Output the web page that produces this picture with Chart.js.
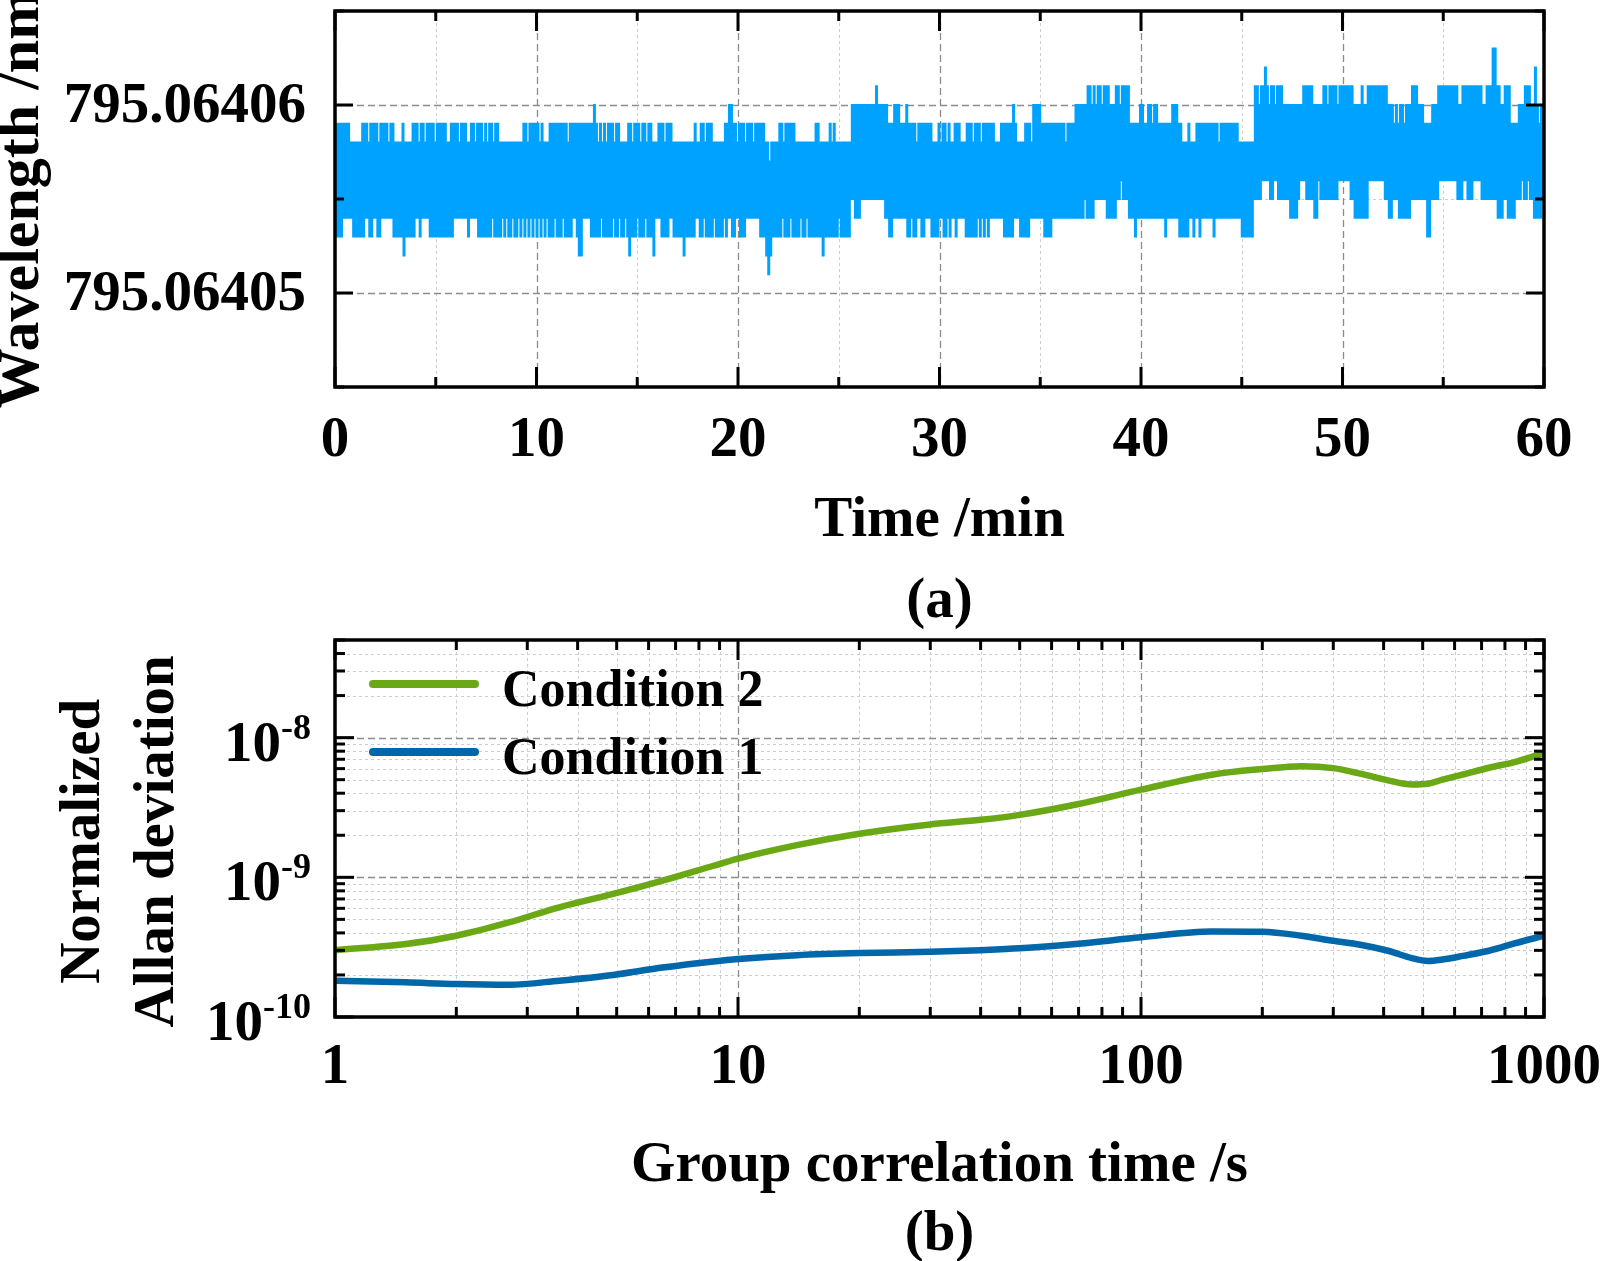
<!DOCTYPE html>
<html>
<head>
<meta charset="utf-8">
<script src="https://cdn.jsdelivr.net/npm/chart.js@4/dist/chart.umd.min.js"></script>
<style>
  html, body { margin: 0; padding: 0; background: #fff; width: 1600px; height: 1261px; overflow: hidden; }
  #ca { position: absolute; left: 0; top: 0; }
  #cb { position: absolute; left: 0; top: 620px; }
</style>
</head>
<body>
<canvas id="ca" width="1600" height="640"></canvas>
<canvas id="cb" width="1600" height="641"></canvas>
<script>
// ================= Panel (a): wavelength record =================
// Quantised wavelength levels: level digit (hex) n  ->  795.06405 nm + n * 1e-6 nm
const WL_BASE = 795.06405;
const WL_STEP = 0.000001;
const SAMPLE_DT = 0.1;                          // minutes per sample
const segStart = [0, 12.2, 24.3, 36.5, 47.9];    // minutes
// upper and lower level reached within each 0.1-min sample
const segHigh = [
  "9999999 888888 9998999989999899 8888 9 8888 99989989999899999 88 99998999 88 99899989899 8 99 888888888888 9989999 989 888 9999999998999999",
  "999999 a 989 8989998998 888 998999899899 888 9998999 88888888888 98 8 998999 888888 99aa9 989 998999899 999 8878888 99899999 8888888888 99 888",
  "88 9898 8888888 aaaaaaaaaaaa b aaaaa 999 aaa 999 a 9999 8 9999999 888 989989 88 999 888 99989998999999 888 999999 a 9 8888 9998 aaaa 99999999999 9899",
  "99 aaaaaa bbababbabbb aaa bbabbbb 99999 aa 99 aa 9 aa 9999999 aaa 99 8889888 99999999999 8 999999999 88888888 bb a bb c ba bb ab bb aaaaaaaaa",
  "a bbbbb aaaaa bbabbbb a bbbbbbb aaaa b aa bbbbbbbbbb aaa 9 a9 aa9 aaa bbb aaa 9999 aaa bbbbbbbbbb aa bbbbbbbbbb aa bbb ddb baa bbb 9999 aaa bbb aa c a9 aa"
];
const segLow = [
  "3333 44444 333333 44 33 44 33 444444 33333233333 44 3 4444 333333333333 4444444 3 4444 3333333 4 3333 434 3343343 4343434 3 43434 333433343333 4432",
  "24 444 3333 343333 3433433 43 2 33 34333433 32 444 3333 44 33333 2 33333 44 33 43 3334333343 44 33 44 333 4444444 333 212 3333 34333433334334 3333333 2",
  "3333333433333 55 444 555555555555 44 334 444444 33 4 33 44 33 444 3333 44 33 43 4434444 333333 434 3434 444444 33333 444 33333 4444444 3333 444444444",
  "4444444 5 4444 555555 44444 55 65 55 444 3 44444444444444 3 444444 33333 44 34 434 44444 34 444444444444 333333 5555 6666 55 66 555555 4444 5",
  "666 5555 44 65 55555555 666666 55 4444444 66666666 55 44 555 444444 55555555 33 5555 666666666 555 66 555 6666 55555555 444 55 4444 55 5655655 4444 5"
];
const xTickValsA = [0, 10, 20, 30, 40, 50, 60];
const xTickLabelsA = ['0', '10', '20', '30', '40', '50', '60'];
const xMinorA = [5, 15, 25, 35, 45, 55];
const yTickValsA = [795.06405, 795.06406];
const yTickLabelsA = ['795.06405', '795.06406'];
const yMinorA = [795.064045, 795.064055, 795.064065];

// ================= Panel (b): Allan deviation =================
const tau   = [1, 1.5, 2, 2.7, 3.6, 4.9, 6.5, 8.7, 10, 14, 20, 30, 40, 50, 70, 100, 150, 200, 250, 300, 350, 410, 470, 515, 560, 630, 730, 845, 1000];
const cond2 = [3.01e-10, 3.33e-10, 3.82e-10, 4.75e-10, 6.1e-10, 7.6e-10, 9.47e-10, 1.21e-9, 1.36e-9, 1.7e-9, 2.05e-9, 2.39e-9, 2.58e-9, 2.8e-9, 3.35e-9, 4.24e-9, 5.43e-9, 5.96e-9, 6.25e-9, 6.05e-9, 5.52e-9, 4.94e-9, 4.62e-9, 4.68e-9, 5.0e-9, 5.45e-9, 6.09e-9, 6.68e-9, 7.76e-9];
const cond1 = [1.82e-10, 1.77e-10, 1.72e-10, 1.70e-10, 1.82e-10, 2.0e-10, 2.26e-10, 2.5e-10, 2.6e-10, 2.77e-10, 2.87e-10, 2.93e-10, 3.01e-10, 3.1e-10, 3.35e-10, 3.72e-10, 4.1e-10, 4.08e-10, 3.82e-10, 3.51e-10, 3.29e-10, 2.98e-10, 2.64e-10, 2.52e-10, 2.58e-10, 2.74e-10, 2.98e-10, 3.36e-10, 3.82e-10];
const seriesNamesB = ['Condition 2', 'Condition 1'];
const seriesColorsB = ['#6aa815', '#0068aa'];
const xTickValsB = [1, 10, 100, 1000];
const xTickLabelsB = ['1', '10', '100', '1000'];
const xMinorB = [2, 3, 4, 5, 6, 7, 8, 9, 20, 30, 40, 50, 60, 70, 80, 90, 200, 300, 400, 500, 600, 700, 800, 900];
const yTickValsB = [1e-10, 1e-9, 1e-8];
const yTickBaseB = ['10', '10', '10'];
const yTickExpB = ['-10', '-9', '-8'];
const yMinorB = [2e-10, 3e-10, 4e-10, 5e-10, 6e-10, 7e-10, 8e-10, 9e-10, 2e-9, 3e-9, 4e-9, 5e-9, 6e-9, 7e-9, 8e-9, 9e-9, 2e-8, 3e-8, 4e-8, 5e-8];

// ================= helpers =================
const FONT = '"Liberation Serif", "Times New Roman", Times, serif';
Chart.defaults.color = '#000';
Chart.defaults.font.family = FONT;

const wlPoints = [];
segHigh.forEach((hs, k) => {
  const h = hs.replace(/\s+/g, ''), l = segLow[k].replace(/\s+/g, '');
  const n = Math.min(h.length, l.length);
  for (let j = 0; j < n; j++) {
    const t = segStart[k] + j * SAMPLE_DT;
    wlPoints.push({ x: t, y: WL_BASE + parseInt(l[j], 16) * WL_STEP });
    wlPoints.push({ x: t + SAMPLE_DT / 2, y: WL_BASE + parseInt(h[j], 16) * WL_STEP });
  }
});

const MAJOR = { color: '#8c8c8c', width: 1.3, dash: [7, 4] };
const MINOR = { color: '#cdcdcd', width: 1, dash: [3, 3] };

function makeFrame(cfg) {
  return {
    id: 'frameGrid',
    beforeDraw(chart) {
      const { ctx, chartArea: a } = chart;
      const xs = chart.scales.x, ys = chart.scales.y;
      ctx.save();
      ctx.beginPath(); ctx.rect(a.left, a.top, a.right - a.left, a.bottom - a.top); ctx.clip();
      const grid = (vals, scale, vertical, st) => {
        ctx.strokeStyle = st.color; ctx.lineWidth = st.width; ctx.setLineDash(st.dash);
        vals.forEach(v => {
          const p = Math.round(scale.getPixelForValue(v)) + 0.5;
          ctx.beginPath();
          if (vertical) { ctx.moveTo(p, a.top); ctx.lineTo(p, a.bottom); }
          else { ctx.moveTo(a.left, p); ctx.lineTo(a.right, p); }
          ctx.stroke();
        });
      };
      grid(cfg.xMinor, xs, true, MINOR);
      grid(cfg.yMinor, ys, false, MINOR);
      grid(cfg.xMajor, xs, true, MAJOR);
      grid(cfg.yMajor, ys, false, MAJOR);
      ctx.restore();
    },
    afterDatasetsDraw(chart) {
      const { ctx, chartArea: a } = chart;
      const xs = chart.scales.x, ys = chart.scales.y;
      ctx.save();
      ctx.strokeStyle = '#000'; ctx.setLineDash([]); ctx.lineWidth = 3; ctx.lineCap = 'butt';
      const xt = (vals, len) => vals.forEach(v => {
        const p = xs.getPixelForValue(v);
        ctx.beginPath(); ctx.moveTo(p, a.bottom); ctx.lineTo(p, a.bottom - len); ctx.stroke();
        ctx.beginPath(); ctx.moveTo(p, a.top); ctx.lineTo(p, a.top + len); ctx.stroke();
      });
      const yt = (vals, len) => vals.forEach(v => {
        const p = ys.getPixelForValue(v);
        ctx.beginPath(); ctx.moveTo(a.left, p); ctx.lineTo(a.left + len, p); ctx.stroke();
        ctx.beginPath(); ctx.moveTo(a.right, p); ctx.lineTo(a.right - len, p); ctx.stroke();
      });
      xt(cfg.xMajor, cfg.xMajLen); xt(cfg.xMinor, cfg.xMinLen);
      yt(cfg.yMajor, cfg.yMajLen); yt(cfg.yMinor, cfg.yMinLen);
      ctx.lineWidth = 3.5;
      ctx.strokeRect(a.left, a.top, a.right - a.left, a.bottom - a.top);
      ctx.restore();
    }
  };
}
const zeroPad = s => { s.paddingLeft = 0; s.paddingRight = 0; s.paddingTop = 0; s.paddingBottom = 0; };
const bigFont = (lh, size) => ({ family: FONT, size: size || 57, weight: 'bold', lineHeight: lh });

// ================= Chart (a) =================
new Chart(document.getElementById('ca'), {
  type: 'line',
  data: { datasets: [{
    label: 'Wavelength', data: wlPoints, borderColor: '#00a2ff', borderWidth: 2,
    pointRadius: 0, stepped: true, fill: false, tension: 0
  }] },
  options: {
    responsive: false, animation: false, devicePixelRatio: 1,
    layout: { padding: { top: 11, right: 56, left: 0, bottom: 0 } },
    plugins: {
      legend: { display: false }, tooltip: { enabled: false },
      title: { display: true, text: '(a)', position: 'bottom', fullSize: false, color: '#000',
               font: bigFont(1), padding: { top: 0, bottom: 9.5 } }
    },
    scales: {
      x: {
        type: 'linear', min: 0, max: 60,
        grid: { display: false, drawTicks: false }, border: { display: false },
        afterBuildTicks: s => { s.ticks = xTickValsA.map(v => ({ value: v })); },
        afterFit: s => { s.height = 186.5; zeroPad(s); },
        ticks: { autoSkip: false, maxRotation: 0, minRotation: 0, padding: 20, color: '#000',
                 font: bigFont(1.2), callback: (v, i) => xTickLabelsA[i] },
        title: { display: true, text: 'Time /min', color: '#000', font: bigFont(1.2),
                 padding: { top: 0, bottom: 18.3 } }
      },
      y: {
        type: 'linear', min: 795.064045, max: 795.064065,
        grid: { display: false, drawTicks: false }, border: { display: false },
        afterBuildTicks: s => { s.ticks = yTickValsA.map(v => ({ value: v })); },
        afterFit: s => { s.width = 335; zeroPad(s); },
        ticks: { autoSkip: false, padding: 29, labelOffset: 2.5, color: '#000', font: bigFont(1.2),
                 callback: (v, i) => yTickLabelsA[i] },
        title: { display: true, text: 'Wavelength /nm', color: '#000', font: bigFont(0.75, 60),
                 padding: { top: 0, bottom: 0 } }
      }
    }
  },
  plugins: [makeFrame({ xMajor: xTickValsA, xMinor: xMinorA, yMajor: yTickValsA, yMinor: yMinorA,
                        xMajLen: 20, xMinLen: 10, yMajLen: 18, yMinLen: 9 })]
});

// ================= Chart (b) =================
// legend sample: a thick round-capped line, drawn slightly above the text centre
function legendLine(color) {
  const c = document.createElement('canvas');
  c.width = 112; c.height = 40;
  const g = c.getContext('2d');
  g.strokeStyle = color; g.lineWidth = 8; g.lineCap = 'round';
  g.beginPath(); g.moveTo(5, 11); g.lineTo(107, 11); g.stroke();
  return c;
}
const legendPlace = {
  id: 'legendPlace',
  beforeDraw(chart) {
    const lg = chart.legend, a = chart.chartArea;
    if (!lg) return;
    lg.left = a.left + 21; lg.right = a.right;
    lg.top = a.top + 11; lg.bottom = a.bottom;
  }
};
const yExpLabels = {
  id: 'yExpLabels',
  afterDraw(chart) {
    const ctx = chart.ctx, ys = chart.scales.y, right = 311;
    ctx.save();
    ctx.fillStyle = '#000'; ctx.textBaseline = 'alphabetic'; ctx.textAlign = 'right';
    yTickValsB.forEach((v, i) => {
      const p = ys.getPixelForValue(v);
      ctx.font = 'bold 36px ' + FONT;
      const ew = ctx.measureText(yTickExpB[i]).width;
      ctx.fillText(yTickExpB[i], right, p + 1);
      ctx.font = 'bold 57px ' + FONT;
      ctx.fillText(yTickBaseB[i], right - ew, p + 23);
    });
    ctx.restore();
  }
};
const seriesB = [cond2, cond1];

new Chart(document.getElementById('cb'), {
  type: 'line',
  data: { datasets: seriesB.map((vals, k) => ({
    label: seriesNamesB[k], data: tau.map((t, i) => ({ x: t, y: vals[i] })),
    borderColor: seriesColorsB[k], backgroundColor: seriesColorsB[k],
    borderWidth: 6.5, borderCapStyle: 'round', borderJoinStyle: 'round',
    pointRadius: 0, pointStyle: legendLine(seriesColorsB[k]),
    cubicInterpolationMode: 'monotone', fill: false
  })) },
  options: {
    responsive: false, animation: false, devicePixelRatio: 1,
    layout: { padding: { top: 20, right: 56, left: 0, bottom: 0 } },
    plugins: {
      tooltip: { enabled: false },
      legend: { display: true, position: 'chartArea', align: 'start',
        labels: { usePointStyle: true, pointStyleWidth: 104, boxHeight: 52,
                  padding: 16, color: '#000', font: { family: FONT, size: 52, weight: 'bold' } } },
      title: { display: true, text: '(b)', position: 'bottom', fullSize: false, color: '#000',
               font: bigFont(0.9), padding: { top: 0, bottom: 0 } }
    },
    scales: {
      x: {
        type: 'logarithmic', min: 1, max: 1000,
        grid: { display: false, drawTicks: false }, border: { display: false },
        afterBuildTicks: s => { s.ticks = xTickValsB.map(v => ({ value: v })); },
        afterFit: s => { s.height = 192.7; zeroPad(s); },
        ticks: { autoSkip: false, maxRotation: 0, minRotation: 0, padding: 16.8, color: '#000',
                 font: bigFont(1.2), callback: (v, i) => xTickLabelsB[i] },
        title: { display: true, text: 'Group correlation time /s', color: '#000', font: bigFont(1.2),
                 padding: { top: 0, bottom: 9.5 } }
      },
      y: {
        type: 'logarithmic', min: 1e-10, max: 5e-8,
        grid: { display: false, drawTicks: false }, border: { display: false },
        afterBuildTicks: s => { s.ticks = yTickValsB.map(v => ({ value: v })); },
        afterFit: s => { s.width = 335; zeroPad(s); },
        ticks: { display: false },
        title: { display: true, text: ['Normalized \u2009', 'Allan deviation \u2009'], color: '#000',
                 font: bigFont(74 / 57), padding: { top: 47.5, bottom: 0 } }
      }
    }
  },
  plugins: [legendPlace, yExpLabels,
            makeFrame({ xMajor: xTickValsB, xMinor: xMinorB, yMajor: yTickValsB, yMinor: yMinorB,
                        xMajLen: 20, xMinLen: 10, yMajLen: 19, yMinLen: 10 })]
});
</script>
</body>
</html>
